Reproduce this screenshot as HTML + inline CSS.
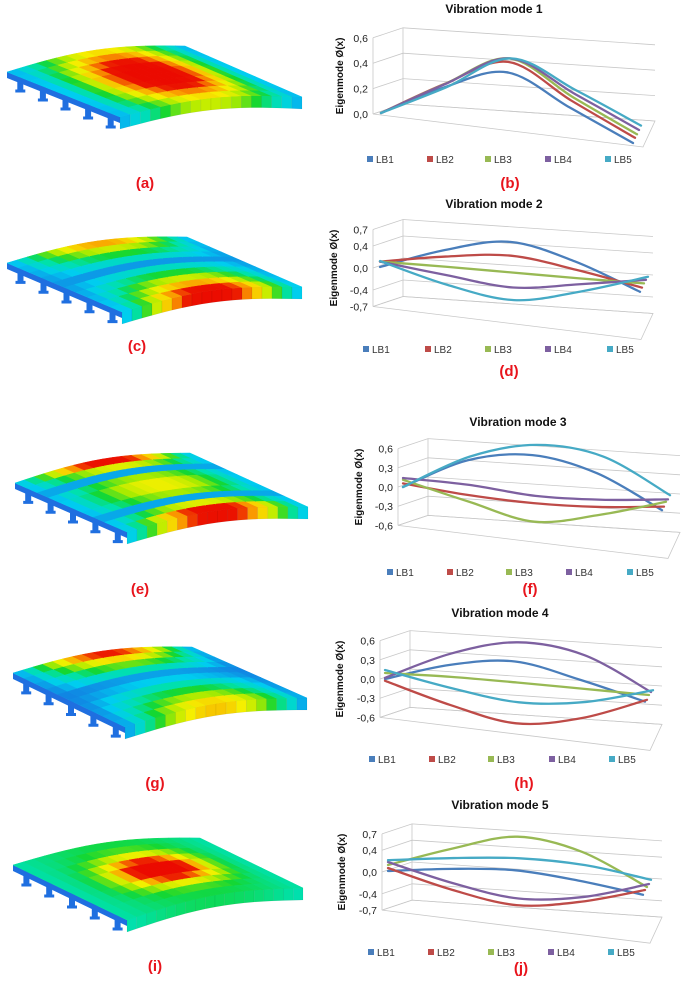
<!DOCTYPE html>
<html><head><meta charset="utf-8">
<style>
html,body{margin:0;padding:0;background:#fff;}
svg{display:block;font-family:"Liberation Sans",sans-serif;}
</style></head>
<body>
<svg id="fig" width="685" height="981" viewBox="0 0 685 981" xmlns="http://www.w3.org/2000/svg">
<g id="bridges"></g>
<g id="charts"></g>
</svg>
<script>
// ---- chart data (value at t = 0, .25, .5, .75, 1 along span) ----
const seriesNames = ["LB1","LB2","LB3","LB4","LB5"];
const chartTitles = ["Vibration mode 1","Vibration mode 2","Vibration mode 3","Vibration mode 4","Vibration mode 5"];
const ticks1 = [0.6,0.4,0.2,0.0];
const ticks2 = [0.7,0.4,0.0,-0.4,-0.7];
const ticks3 = [0.6,0.3,0.0,-0.3,-0.6];
const ticks4 = [0.6,0.3,0.0,-0.3,-0.6];
const ticks5 = [0.7,0.4,0.0,-0.4,-0.7];
const tickLabels1 = ["0,6","0,4","0,2","0,0"];
const tickLabels2 = ["0,7","0,4","0,0","-0,4","-0,7"];
const tickLabels3 = ["0,6","0,3","0,0","-0,3","-0,6"];
const tickLabels4 = ["0,6","0,3","0,0","-0,3","-0,6"];
const tickLabels5 = ["0,7","0,4","0,0","-0,4","-0,7"];
const mode1 = [[0,0.19,0.32,0.16,0],[0,0.21,0.38,0.20,0.03],[0,0.21,0.40,0.22,0.05],[0,0.21,0.40,0.24,0.075],[0,0.19,0.40,0.26,0.10]];
const mode2 = [[0,0.38,0.61,0.38,-0.03],[0.09,0.27,0.38,0.24,0.04],[0.09,0.10,0.10,0.10,0.11],[0.09,-0.04,-0.15,0.0,0.17],[0.10,-0.20,-0.36,-0.12,0.22]];
const mode3 = [[0,0.55,0.74,0.54,0.03],[0.06,-0.03,-0.06,-0.02,0.09],[0.12,-0.14,-0.37,-0.15,0.17],[0.15,0.14,0.06,0.10,0.21],[0,0.61,0.91,0.82,0.28]];
const mode4 = [[0,0.34,0.50,0.30,0.04],[-0.03,-0.33,-0.53,-0.34,0.07],[0.10,0.14,0.15,0.15,0.15],[0.02,0.53,0.82,0.71,0.20],[0.15,-0.05,-0.18,-0.07,0.23]];
const mode5 = [[0,0.14,0.22,0.15,0.02],[0.05,-0.21,-0.36,-0.20,0.10],[0.10,0.48,0.78,0.63,0.15],[0.15,-0.10,-0.25,-0.12,0.20],[0.18,0.32,0.42,0.41,0.27]];
const tPositions = [0,0.25,0.5,0.75,1];

const colors = ["#4a7ebb","#be4b48","#98b954","#7d60a0","#46aac5"];
const NS = "http://www.w3.org/2000/svg";
function mk(tag, attrs, parent){const e=document.createElementNS(NS,tag);for(const k in attrs)e.setAttribute(k,attrs[k]);parent.appendChild(e);return e;}

const chartGeo = [
 {data:mode1,ticks:ticks1,labels:tickLabels1,titleY:13,titleX:494,wallX:373,zeroY:114,ws:127,rightX:655,xs:381,ys:113,xe:633,ye:143,k:174,legY:160,legX:[367,427,485,545,605],axX:343,lab:"(b)",labX:510,labY:188},
 {data:mode2,ticks:ticks2,labels:tickLabels2,titleY:208,titleX:494,wallX:373,zeroY:268,ws:55,rightX:653,xs:380,ys:267,xe:640,ye:290,k:60,legY:350,legX:[363,425,485,545,607],axX:337,lab:"(d)",labX:509,labY:376},
 {data:mode3,ticks:ticks3,labels:tickLabels3,titleY:426,titleX:518,wallX:398,zeroY:487,ws:64,rightX:680,xs:403,ys:487,xe:662,ye:512,k:60,legY:573,legX:[387,447,506,566,627],axX:362,lab:"(f)",labX:530,labY:594},
 {data:mode4,ticks:ticks4,labels:tickLabels4,titleY:617,titleX:500,wallX:380,zeroY:679,ws:64,rightX:662,xs:385,ys:679,xe:645,ye:704,k:60,legY:760,legX:[369,429,488,549,609],axX:343,lab:"(h)",labX:524,labY:788},
 {data:mode5,ticks:ticks5,labels:tickLabels5,titleY:809,titleX:500,wallX:382,zeroY:872,ws:54.5,rightX:662,xs:388,ys:871,xe:643,ye:896,k:60,legY:953,legX:[368,428,488,548,608],axX:345,lab:"(j)",labX:521,labY:973}
];

const chartsG = document.getElementById("charts");
chartGeo.forEach((g,ci)=>{
  const cg = mk("g",{},chartsG);
  
  
  const title = mk("text",{x:g.titleX,y:g.titleY,"text-anchor":"middle","font-size":"12","font-weight":"bold",fill:"#111"},cg);
  title.textContent = chartTitles[ci];
  
  
  const yOf = v => g.zeroY - v*g.ws;
  const bx=30, by=-10, drop=17;
  // gridlines
  g.ticks.forEach((tv,i)=>{
    const ty=yOf(tv);
    const gl = mk("polyline",{points:`${g.wallX},${ty} ${g.wallX+bx},${ty+by} ${g.rightX},${ty+by+drop}`,fill:"none",stroke:"#c8c8c8","stroke-width":"0.8"},cg);
    
    
    const tl = mk("text",{x:g.wallX-5,y:ty+4,"text-anchor":"end","font-size":"10.5",fill:"#222"},cg);
    tl.textContent = g.labels[i];
    
    
  });
  const yTop=yOf(g.ticks[0]), yLow=yOf(g.ticks[g.ticks.length-1]);
  const wl = mk("path",{d:`M${g.wallX},${yTop}V${yLow}M${g.wallX+bx},${yTop+by}V${yLow+by}`,stroke:"#c8c8c8","stroke-width":"0.8",fill:"none"},cg);
  
  
  const fl = mk("polygon",{points:`${g.wallX},${yLow} ${g.rightX-12},${yLow+33} ${g.rightX},${yLow+by+drop} ${g.wallX+bx},${yLow+by}`,fill:"none",stroke:"#c8c8c8","stroke-width":"0.8"},cg);
  
  
  const ax = mk("text",{x:g.axX,y:(yTop+yLow)/2,"text-anchor":"middle","font-size":"10","font-weight":"bold",fill:"#111",transform:`rotate(-90 ${g.axX} ${(yTop+yLow)/2})`},cg);
  ax.textContent = "Eigenmode Ø(x)";
  
  
  // series
  g.data.forEach((vals,si)=>{
    const pts = vals.map((v,j)=>{
      const t=tPositions[j];
      const x=g.xs+t*(g.xe-g.xs)+si*2*t;
      const y=g.ys+t*(g.ye-g.ys)-v*g.k;
      return [x,y];
    });
    let d=`M${pts[0][0]},${pts[0][1]}`;
    for(let j=0;j<pts.length-1;j++){
      const p0=pts[Math.max(0,j-1)],p1=pts[j],p2=pts[j+1],p3=pts[Math.min(pts.length-1,j+2)];
      const c1=[p1[0]+(p2[0]-p0[0])/6,p1[1]+(p2[1]-p0[1])/6];
      const c2=[p2[0]-(p3[0]-p1[0])/6,p2[1]-(p3[1]-p1[1])/6];
      d+=` C${c1[0]},${c1[1]} ${c2[0]},${c2[1]} ${p2[0]},${p2[1]}`;
    }
    const ln = mk("path",{d:d,fill:"none",stroke:colors[si],"stroke-width":"2.3","stroke-linecap":"round"},cg);
    
    
  });
  // legend
  seriesNames.forEach((n,si)=>{
    const sq = mk("rect",{x:g.legX[si],y:g.legY-4,width:6,height:6,fill:colors[si]},cg);
    
    
    const lt = mk("text",{x:g.legX[si]+9,y:g.legY+3,"font-size":"10",fill:"#333"},cg);
    lt.textContent=n;
    
    
  });
  const lb = mk("text",{x:g.labX,y:g.labY,"text-anchor":"middle","font-size":"15","font-weight":"bold",fill:"#e8141c"},cg);
  lb.textContent=g.lab;
  
  
});

// ---- bridge models ----
const cmapStops=[[0,[25,95,220]],[0.15,[0,205,240]],[0.3,[0,225,170]],[0.42,[20,215,50]],[0.55,[170,235,0]],[0.66,[245,240,0]],[0.8,[250,150,0]],[0.9,[235,20,0]],[1,[235,10,0]]];
function cmap(f){f=Math.max(0,Math.min(1,f));for(let i=0;i<cmapStops.length-1;i++){const a=cmapStops[i],b=cmapStops[i+1];if(f<=b[0]){const t=(f-a[0])/(b[0]-a[0]);const c=a[1].map((x,k)=>Math.round(x+(b[1][k]-x)*t));return `rgb(${c[0]},${c[1]},${c[2]})`;}}return "rgb(235,10,0)";}
const S=Math.sin,P=Math.PI;
const fields=[
 (u,v)=>0.1+0.95*Math.pow(S(P*u),1.2)*(0.55+0.45*S(P*v)),
 (u,v)=>0.08+0.95*S(P*u)*(Math.abs(v-0.45)/0.55),
 (u,v)=>0.1+0.9*S(P*u)*Math.abs(Math.cos(2*P*v))*(1-0.4*Math.exp(-Math.pow((v-0.5)/0.15,2))),
 (u,v)=>0.05+0.95*S(P*u)*(v<0.47?(0.47-v)/0.47:0.75*(v-0.47)/0.53),
 (u,v)=>0.3+0.1*S(P*u)+0.7*Math.pow(S(P*u)*S(P*v),3)
];
const bridgeGeo=[
 {c:[[7,72],[120,117],[302,97],[185,46]],lab:"(a)",lx:145,ly:188},
 {c:[[7,263],[122,312],[302,287],[187,237]],lab:"(c)",lx:137,ly:351},
 {c:[[15,483],[127,532],[308,507],[190,453]],lab:"(e)",lx:140,ly:594},
 {c:[[13,673],[125,727],[307,698],[192,647]],lab:"(g)",lx:155,ly:788},
 {c:[[13,865],[127,920],[303,888],[200,838]],lab:"(i)",lx:155,ly:971}
];
const bridgesG=document.getElementById("bridges");
bridgeGeo.forEach((b,bi)=>{
  const g=mk("g",{},bridgesG);
  
  
  const [B0,F0,F1,B1]=b.c; // back-left, front-left, front-right, back-right
  const pt=(u,v)=>{const l=[B0[0]+(F0[0]-B0[0])*v,B0[1]+(F0[1]-B0[1])*v];const r=[B1[0]+(F1[0]-B1[0])*v,B1[1]+(F1[1]-B1[1])*v];return [l[0]+(r[0]-l[0])*u,l[1]+(r[1]-l[1])*u-9*S(P*u)];};
  const f=fields[bi];
  // girders under left edge
  for(let i=0;i<5;i++){
    const v=0.1+0.2*i, p=pt(0,v);
    const gr=mk("path",{d:`M${p[0]-1},${p[1]}h6v13h2v3h-10v-3h2z`,fill:"#1f6fe0"},g);
    
    
  }
  const lf=mk("polygon",{points:`${B0[0]},${B0[1]} ${F0[0]},${F0[1]} ${F0[0]},${F0[1]+6} ${B0[0]},${B0[1]+6}`,fill:"#1f6fe0"},g);
  
  
  const NU=18,NV=10;
  for(let i=0;i<NU;i++){
    const a=pt(i/NU,1),c=pt((i+1)/NU,1);
    const q=mk("polygon",{points:`${a[0]},${a[1]} ${c[0]},${c[1]} ${c[0]},${c[1]+12} ${a[0]},${a[1]+12}`,fill:cmap(f((i+0.5)/NU,1)*0.95),stroke:"rgba(0,0,0,0.12)","stroke-width":"0.4"},g);
    
    
  }
  for(let i=0;i<NU;i++)for(let j=0;j<NV;j++){
    const p1=pt(i/NU,j/NV),p2=pt((i+1)/NU,j/NV),p3=pt((i+1)/NU,(j+1)/NV),p4=pt(i/NU,(j+1)/NV);
    const q=mk("polygon",{points:`${p1[0]},${p1[1]} ${p2[0]},${p2[1]} ${p3[0]},${p3[1]} ${p4[0]},${p4[1]}`,fill:cmap(f((i+0.5)/NU,(j+0.5)/NV)),stroke:cmap(f((i+0.5)/NU,(j+0.5)/NV)),"stroke-width":"0.5"},g);
    
    
  }
  const lb=mk("text",{x:b.lx,y:b.ly,"text-anchor":"middle","font-size":"15","font-weight":"bold",fill:"#e8141c"},g);
  lb.textContent=b.lab;
  
  
});
</script>
</body></html>
